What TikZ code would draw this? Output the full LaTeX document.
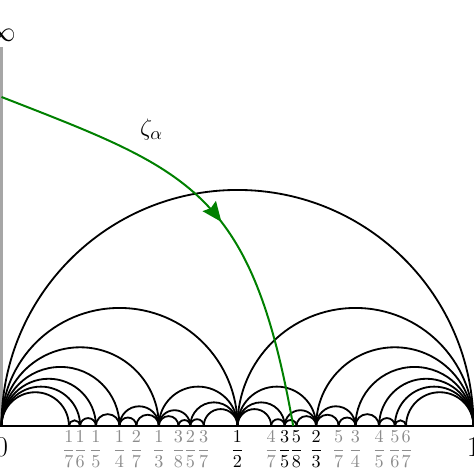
\documentclass[tikz,border=0pt]{standalone}
\usepackage{amsmath}
\usetikzlibrary{arrows.meta,decorations.markings}

\begin{document}
\begin{tikzpicture}[
    x=10cm, y=10cm,
    % styles
    farey/.style={line width=1.1pt, black},
    axisline/.style={line width=1.6pt, black!35},
    geod/.style={line width=1.2pt, green!50!black},
    fraclbl/.style={inner sep=0pt, text=black!45, font=\fontsize{11}{13}\selectfont},
    keylbl/.style={inner sep=0pt, text=black, font=\fontsize{11}{13}\selectfont},
    endlbl/.style={inner sep=0pt, font=\LARGE},
]

\useasboundingbox (-0.0032,-0.1017) rectangle (1.0011,0.9025);
\clip (-0.0032,-0.1017) rectangle (1.0011,0.9025);

% ========== imaginary axis ==========
\draw[axisline] (0,0) -- (0,0.803);
\node[endlbl] (inf) at (0,0.828) {$\infty$};

% ========== Farey arcs ==========
\foreach \p/\q/\r/\s in {0/1/1/1, 0/1/1/2, 1/2/1/1,
    0/1/1/3, 1/3/1/2, 1/2/2/3, 2/3/1/1,
    0/1/1/4, 1/4/1/3, 2/3/3/4, 3/4/1/1,
    0/1/1/5, 1/5/1/4, 1/3/2/5, 2/5/1/2, 1/2/3/5, 3/5/2/3, 3/4/4/5, 4/5/1/1,
    0/1/1/6, 1/6/1/5, 4/5/5/6, 5/6/1/1,
    0/1/1/7, 1/7/1/6, 1/4/2/7, 2/7/1/3, 2/5/3/7, 3/7/1/2,
    1/2/4/7, 4/7/3/5, 2/3/5/7, 5/7/3/4, 5/6/6/7, 6/7/1/1,
    1/3/3/8, 3/8/2/5, 3/5/5/8, 5/8/2/3}{
  \pgfmathsetmacro\xa{\p/\q}
  \pgfmathsetmacro\xb{\r/\s}
  \pgfmathsetmacro\rad{(\xb-\xa)/2}
  \draw[farey] (\xa,0) arc[start angle=180, end angle=0, radius=\rad];
}

% real axis
\draw[farey, line width=1pt] (-0.05,0) -- (1.05,0);

% ========== geodesic ==========
\coordinate (start) at (0,0.697);
\coordinate (alpha) at (0.618,0);
\draw[geod, postaction={decorate},
      decoration={markings, mark=at position 0.54 with {\arrow{Stealth[length=12pt,width=10pt,inset=1.5pt]}}}]
  (start) .. controls (0.4,0.541) and (0.5301,0.5) .. (alpha);
\node[font=\fontsize{15.5}{18}\selectfont] (zeta) at (0.318,0.627) {$\zeta_\alpha$};

% ========== labels ==========
\node[endlbl] (zero) at (0,-0.045) {$0$};
\node[endlbl] (one) at (1,-0.045) {$1$};
\foreach \p/\q in {1/7, 1/6, 1/5, 1/4, 2/7, 1/3, 3/8, 2/5, 3/7,
    4/7, 5/7, 3/4, 4/5, 5/6, 6/7}{
  \node[fraclbl] (f\p-\q) at ({\p/\q},-0.049) {$\dfrac{\p}{\q}$};
}
\foreach \p/\q in {1/2, 3/5, 5/8, 2/3}{
  \node[keylbl] (k\p-\q) at ({\p/\q},-0.049) {$\dfrac{\p}{\q}$};
}

\end{tikzpicture}
\end{document}
